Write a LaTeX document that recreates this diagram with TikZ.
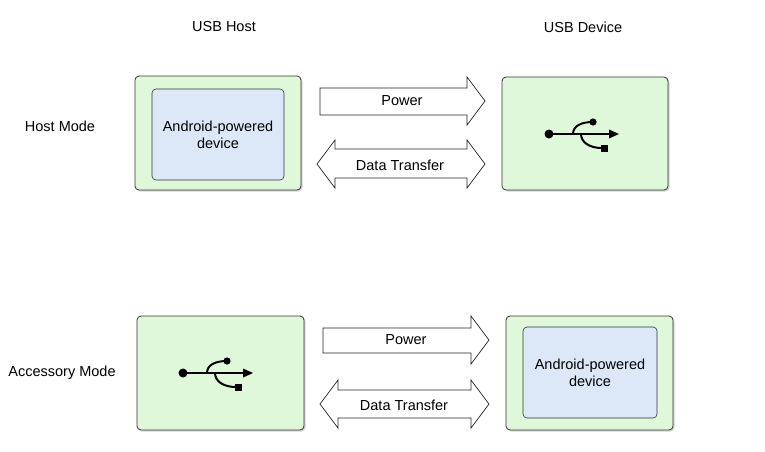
\documentclass[tikz,border=0pt]{standalone}
\usepackage{fontspec}
\setmainfont{Liberation Sans}
\usetikzlibrary{shadows}
\definecolor{gbox}{HTML}{E0F8DA}
\definecolor{bbox}{HTML}{DCE8F8}
\begin{document}
\begin{tikzpicture}[x=1pt,y=-1pt,
  outer/.style={draw=black!80,fill=gbox,rounded corners=4pt,line width=0.8pt,drop shadow={shadow xshift=1.5pt,shadow yshift=-1.5pt,opacity=0.35}},
  inner/.style={draw=black!80,fill=bbox,rounded corners=4pt,line width=0.6pt,align=center,font=\fontsize{14.5}{17}\selectfont},
  arr/.style={draw=black!85,fill=white,line width=0.7pt},
  lbl/.style={font=\fontsize{14.5}{17}\selectfont},
  usb/.pic={
    \fill (0,0) circle (4.5);
    \draw[line width=2pt] (0,0) -- (62,0);
    \fill (70,0) -- (60,-4.5) -- (60,4.5) -- cycle;
    \draw[line width=2pt] (24,0) .. controls (24,-8) and (32,-12) .. (44,-12);
    \fill (44,-12) circle (3.6);
    \draw[line width=2pt] (32,0) .. controls (32,8) and (40,14) .. (53,14);
    \fill (51.5,10.5) rectangle (58.5,17.5);
  }]
\useasboundingbox (0,0) rectangle (765,451);
\node[lbl] (h1) at (224,27) {USB Host};
\node[lbl] (h2) at (583,27) {USB Device};
\node[lbl] (m1) at (60,126) {Host Mode};
\node[lbl] (m2) at (62,373) {Accessory Mode};
% top row
\draw[outer] (135,76) rectangle (301,190);
\node[inner,minimum width=132pt,minimum height=91pt] (a1) at (218,134.5) {Android-powered\\device};
\draw[outer] (502,77) rectangle (668,190);
\pic at (549,134) {usb};
\draw[arr] (320,88) -- (467,88) -- (467,77) -- (485,101) -- (467,125) -- (467,115) -- (320,115) -- cycle;
\node[lbl] (p1) at (402,101) {Power};
\draw[arr] (317,164) -- (335,140) -- (335,149) -- (467,149) -- (467,140) -- (485,164) -- (467,188) -- (467,178) -- (335,178) -- (335,188) -- cycle;
\node[lbl] (d1) at (400,165) {Data Transfer};
% bottom row
\draw[outer] (137,316) rectangle (304,430);
\pic at (183,373) {usb};
\draw[outer] (506,316) rectangle (673,430);
\node[inner,minimum width=134pt,minimum height=91pt] (a2) at (590,372.5) {Android-powered\\device};
\draw[arr] (323,328) -- (471,328) -- (471,316) -- (489,340) -- (471,364) -- (471,353) -- (323,353) -- cycle;
\node[lbl] (p2) at (406,340) {Power};
\draw[arr] (320,404) -- (338,380) -- (338,390) -- (471,390) -- (471,380) -- (489,404) -- (471,428) -- (471,418) -- (338,418) -- (338,428) -- cycle;
\node[lbl] (d2) at (404,405) {Data Transfer};
\end{tikzpicture}
\end{document}
